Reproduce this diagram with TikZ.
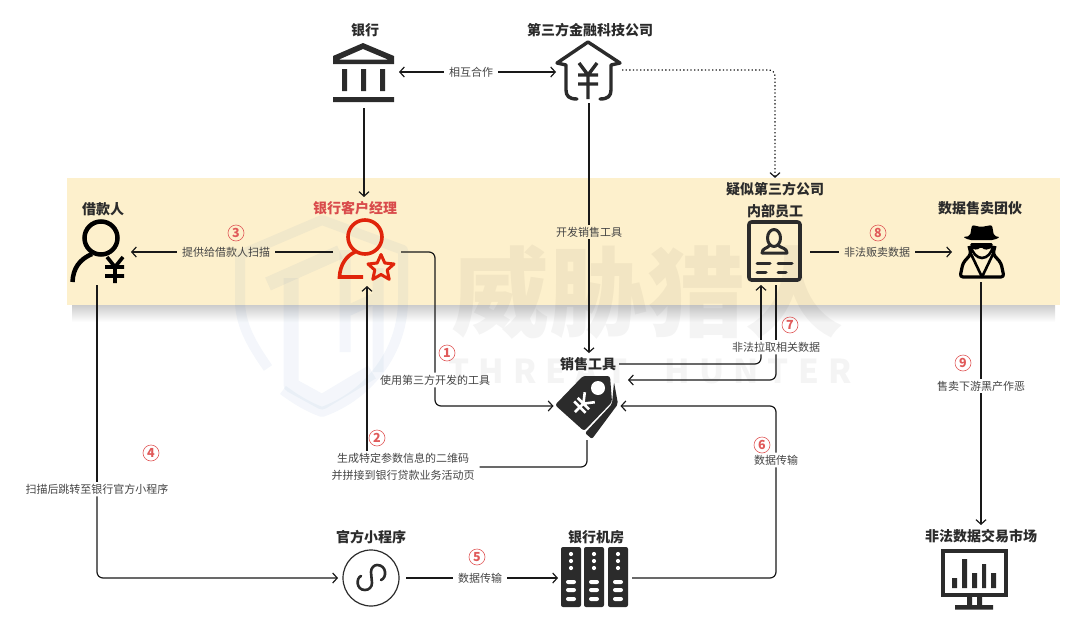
\documentclass[tikz,border=0pt]{standalone}
\usepackage{fontspec}
\setmainfont{Noto Sans CJK SC}
\definecolor{bandyellow}{HTML}{FDF0CC}
\definecolor{inkdark}{HTML}{2B2B2B}
\definecolor{textgray}{HTML}{444444}
\definecolor{mgrred}{HTML}{E0240A}
\definecolor{titlered}{HTML}{D94B4B}
\definecolor{numred}{HTML}{E05A5A}
\definecolor{markblue}{HTML}{3C6EB4}
\usetikzlibrary{arrows.meta,shapes.geometric,positioning,calc}
\tikzset{
    conn/.style={line width=1.2pt, draw=black!90},
    arr/.style={conn, -{Straight Barb[length=4.5pt,width=10pt,line width=1.2pt]}},
    iconbox/.style={inner sep=0pt, outer sep=0pt},
    titletext/.style={font=\fontsize{14}{16}\selectfont\bfseries, text=inkdark, inner xsep=3pt, inner ysep=4pt},
    edgetext/.style={font=\fontsize{11}{17}\selectfont, text=textgray, align=center, inner xsep=5pt, inner ysep=2pt},
    numcirc/.style={circle, draw=numred, text=numred, line width=0.6pt, minimum size=16pt, inner sep=0pt, font=\fontsize{12.5}{13}\selectfont\bfseries},
    icon/.style={draw=inkdark, line width=3pt, line join=round, line cap=round},
}
\begin{document}
\begin{tikzpicture}[x=1pt,y=-1pt]
    \useasboundingbox (0,0) rectangle (1080,632);

    % Band
    \fill[bandyellow] (67,178) rectangle (1060,305);
    \shade[top color=black!20, bottom color=white] (72,305) rectangle (1055,322);

    % Watermark
    \begin{scope}[opacity=0.06, markblue, line join=round]
        \draw[line width=10pt] (268,368) .. controls (252,345) and (240,325) .. (240,300) -- (240,255) -- (322,220) -- (403,250) -- (403,300) .. controls (403,350) and (370,395) .. (322,412) .. controls (308,407) and (295,399) .. (283,390);
        \draw[line width=14pt] (268,284) -- (340,252);
        \draw[line width=15pt] (291,278) -- (291,385) -- (322,402) -- (372,372);
        \draw[line width=11pt] (345,250) -- (345,352) (345,312) -- (378,297) (378,268) -- (378,372);
    \end{scope}
    \node[opacity=0.045, text=black, font=\fontsize{98}{100}\selectfont\bfseries, inner sep=0pt] (markcn) at (647,292) {威胁猎人};
    \node[opacity=0.045, text=black, font=\fontsize{33}{34}\selectfont\bfseries, inner sep=0pt] (marken) at (650,371) {T\;H\;R\;E\;A\;T\;\;\;\;H\;U\;N\;T\;E\;R};

    % Icon boxes
    \node[iconbox, minimum width=70pt, minimum height=72pt] (bank) at (364,72) {};
    \node[iconbox, minimum width=66pt, minimum height=62pt] (fintech) at (589,72) {};
    \node[iconbox, minimum width=68pt, minimum height=66pt] (borrower) at (97,252) {};
    \node[iconbox, minimum width=68pt, minimum height=68pt] (manager) at (367,252) {};
    \node[iconbox, minimum width=68pt, minimum height=66pt] (insider) at (776,252) {};
    \node[iconbox, minimum width=58pt, minimum height=60pt] (gang) at (981,252) {};
    \node[iconbox, minimum width=67pt, minimum height=68pt] (tool) at (587,406) {};
    \node[iconbox, minimum width=68pt, minimum height=68pt] (mini) at (372,578) {};
    \node[iconbox, minimum width=74pt, minimum height=64pt] (room) at (595,578) {};
    \node[iconbox, minimum width=68pt, minimum height=62pt] (market) at (975,579) {};

    % Titles
    \node[titletext] (banktitle) at (365,30) {银行};
    \node[titletext] (fintechtitle) at (590,30) {第三方金融科技公司};
    \node[titletext] (borrowertitle) at (103,209) {借款人};
    \node[titletext, text=titlered] (managertitle) at (355,208) {银行客户经理};
    \node[titletext, align=center, font=\fontsize{14}{22}\selectfont\bfseries] (insidertitle) at (775,200) {疑似第三方公司\\内部员工};
    \node[titletext] (gangtitle) at (980,208) {数据售卖团伙};
    \node[titletext] (tooltitle) at (588,364) {销售工具};
    \node[titletext] (minititle) at (371,537) {官方小程序};
    \node[titletext] (roomtitle) at (596,537) {银行机房};
    \node[titletext] (markettitle) at (981,536) {非法数据交易市场};

    % Edge labels
    \node[edgetext] (coop) at (471,72) {相互合作};
    \node[edgetext] (devtool) at (589,232) {开发销售工具};
    \node[edgetext] (scanqr) at (226,252) {提供给借款人扫描};
    \node[edgetext] (usetool) at (435,380) {使用第三方开发的工具};
    \node[edgetext] (genqr) at (403,467) {生成特定参数信息的二维码\\并拼接到银行贷款业务活动页};
    \node[edgetext] (jump) at (97,489) {扫描后跳转至银行官方小程序};
    \node[edgetext] (transa) at (480,578) {数据传输};
    \node[edgetext] (transb) at (776,460) {数据传输};
    \node[edgetext] (pull) at (776,347) {非法拉取相关数据};
    \node[edgetext] (sell) at (877,252) {非法贩卖数据};
    \node[edgetext] (resell) at (981,386) {售卖下游黑产作恶};

    % Numbers
    \node[numcirc] (numa) at (447,353) {1};
    \node[numcirc] (numb) at (377,438) {2};
    \node[numcirc] (numc) at (236,233) {3};
    \node[numcirc] (numd) at (151,453) {4};
    \node[numcirc] (nume) at (477,557) {5};
    \node[numcirc] (numf) at (762,445) {6};
    \node[numcirc] (numg) at (790,325) {7};
    \node[numcirc] (numh) at (878,233) {8};
    \node[numcirc] (numi) at (963,363) {9};

    % Connectors
    \draw[arr] (coop.west) -- (bank.east);
    \draw[arr] (coop.east) -- (fintech.west);
    \draw[arr, dash pattern=on 1.3pt off 2.3pt, rounded corners=6pt] ([yshift=2pt]fintech.east) -| (insidertitle.north);
    \draw[arr] (bank.south) -- (bank.south |- managertitle.north);
    \draw[conn] (fintech.south) -- (devtool.north);
    \draw[arr] (devtool.south) -- (devtool.south |- tooltitle.north);
    \draw[conn] (manager.west) -- (scanqr.east);
    \draw[arr] (scanqr.west) -- (borrower.east);
    \draw[conn, rounded corners=6pt] (manager.east) -| (usetool.north);
    \draw[arr, rounded corners=6pt] (usetool.south) |- (tool.west);
    \draw[conn, rounded corners=6pt] (tool.south) |- (genqr.east);
    \draw[arr] (genqr.north -| manager.south) -- (manager.south);
    \draw[conn] (borrower.south) -- (jump.north);
    \draw[arr, rounded corners=6pt] (jump.south) |- (mini.west);
    \draw[conn] (mini.east) -- (transa.west);
    \draw[arr] (transa.east) -- (room.west);
    \draw[conn, rounded corners=6pt] (room.east) -| (transb.south);
    \draw[arr, rounded corners=6pt] (transb.north) |- (tool.east);
    \draw[conn, rounded corners=6pt] (tooltitle.east) -| ([xshift=-15pt]pull.south);
    \draw[arr] ([xshift=-15pt]pull.north) -- ([xshift=-15pt]insider.south);
    \draw[conn] (insider.south) -- (pull.north);
    \coordinate (toolin) at (628,380);
    \draw[arr, rounded corners=6pt] (pull.south) |- (toolin);
    \draw[conn] (insider.east) -- (sell.west);
    \draw[arr] (sell.east) -- (gang.west);
    \draw[conn] (gang.south) -- (resell.north);
    \draw[arr] (resell.south) -- (resell.south |- markettitle.north);

    % Bank icon
    \fill[inkdark, even odd rule] (363,43) -- (394,56) -- (394,64) -- (333,64) -- (333,56) -- cycle (363,49) -- (339,59.5) -- (388,59.5) -- cycle;
    \fill[inkdark] (342,69) rectangle (347,91) (361,69) rectangle (366,91) (380,69) rectangle (385,91) (333,97) rectangle (394,102);

    % Fintech house
    \draw[icon, line width=3.4pt] (577,99) .. controls (569,99) and (566,96) .. (566,90) -- (566,65) -- (557,63) -- (588,42) -- (620,63) -- (611,65) -- (611,90) .. controls (611,96) and (608,99) .. (600,99);
    \draw[icon, line width=3.4pt, line cap=butt] (579,63) -- (588,75) -- (597,63) (578,75) -- (598,75) (578,84) -- (598,84) (588,75) -- (588,99);

    % Borrower
    \draw[black, line width=4.5pt] (101,238) circle (16.5);
    \draw[black, line width=4.5pt] (72.5,282) .. controls (73,268) and (80,259) .. (92,254);
    \draw[black, line width=3.6pt] (107,257) -- (115,267) -- (123,257) (105,267) -- (124,267) (105,276) -- (124,276) (115,267) -- (115,283);

    % Manager
    \draw[mgrred, line width=3.6pt] (365,237) circle (17);
    \draw[mgrred, line width=3.6pt] (363,277) -- (339.5,277) .. controls (340,265) and (346,256) .. (355,252);
    \draw[mgrred, line width=3pt, line join=round] (381,254.5) -- (384.8,263) -- (394,264) -- (387.2,270) -- (389.2,279.3) -- (381,274.5) -- (372.8,279.3) -- (374.8,270) -- (368,264) -- (377.2,263) -- cycle;

    % Insider badge
    \draw[icon, line width=3.6pt, rounded corners=2.5pt] (749,222) rectangle (800,280);
    \draw[icon, line width=3pt] (774,238) ellipse (6.5 and 8.5);
    \draw[icon, line width=3pt] (769,246) .. controls (768,248) and (762,248) .. (762,253) -- (787,253) .. controls (787,248) and (781,248) .. (779,246);
    \draw[icon, line width=3pt] (757,263) -- (770,263) (778,263) -- (792,263) (757,272) -- (766,272) (778,272) -- (786,272);

    % Gang spy
    \fill[black, rounded corners=2pt] (972,225) -- (981,227) -- (992,225) -- (994,236) -- (1000,237) -- (994,240) -- (969,240) -- (963,237) -- (970,236) -- cycle;
    \fill[black, rounded corners=1.5pt] (970,243) -- (993,243) -- (992,248) -- (985,250) -- (981,247) -- (977,250) -- (971,248) -- cycle;
    \draw[black, line width=2.6pt, line join=round] (971,246) .. controls (972,253) and (977,258) .. (982,258) .. controls (987,258) and (992,253) .. (993,246);
    \draw[black, line width=3.2pt, line join=round, rounded corners=3pt] (969,246) -- (971,254) -- (963,263) -- (960,277) -- (1004,277) -- (1001,263) -- (993,254) -- (995,246);
    \draw[black, line width=2.6pt, line join=round] (971,254) -- (982,277) -- (993,254);

    % Tool tag
    \fill[inkdark, rounded corners=2pt] (614,382) -- (618,404) -- (592,439) -- (585,433) -- (612,404) -- cycle;
    \fill[inkdark, rounded corners=2.5pt] (555,405) -- (583,376) -- (610,376) -- (612,402) -- (584,431) -- cycle;
    \fill[white] (598,388) circle (7);
    \draw[white, line width=2.6pt] (594.8,402.2) -- (583.4,403.6) -- (584.8,392.2) (577.7,397.9) -- (589.1,409.3) (574.2,401.4) -- (585.6,412.8) (583.4,403.6) -- (574.9,412.1);

    % Mini program
    \draw[inkdark, line width=1.2pt] (371,578) circle (28);
    \draw[inkdark, line width=2.6pt, line cap=round] (361,576) .. controls (356,578) and (356,590) .. (365,590) .. controls (369,590) and (372,587) .. (372,583) -- (371,572) .. controls (371,568) and (374,565) .. (377,565) .. controls (387,565) and (387,578) .. (381,580);

    % Server room
    \foreach \rackx in {571,594,618} {
        \fill[inkdark, rounded corners=2pt] (\rackx-10,547) rectangle (\rackx+10,607);
        \foreach \doty in {554,561,568}
            \fill[white] (\rackx,\doty) circle (2.1);
        \foreach \pilly in {582,590,599}
            \fill[white, rounded corners=2pt] (\rackx-5,\pilly-2) rectangle (\rackx+5,\pilly+2);
    }

    % Market monitor
    \draw[inkdark, line width=4.4pt] (943,551) rectangle (1006,595);
    \fill[inkdark] (952,578) rectangle (957,588) (962,559) rectangle (967,588) (972,573) rectangle (977,588) (982,564) rectangle (986,588) (991,573) rectangle (996,588);
    \fill[inkdark] (967,597) rectangle (972,606) (977,597) rectangle (982,606) (955,605) rectangle (993,609.5);
\end{tikzpicture}
\end{document}
